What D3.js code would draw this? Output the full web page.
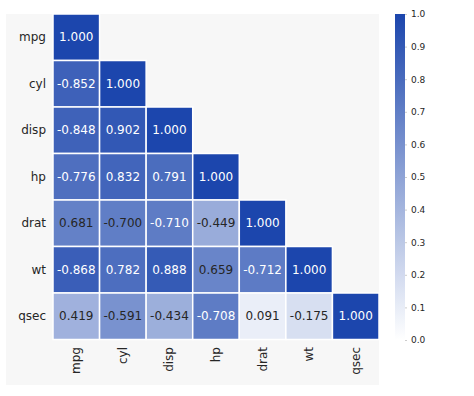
<!DOCTYPE html>
<html><head><meta charset="utf-8">
<script src="https://cdn.jsdelivr.net/npm/d3@7"></script>
<style>body{margin:0;background:#fff}svg{display:block;font-family:"DejaVu Sans",sans-serif}</style>
</head><body><svg id="c" width="474" height="396"></svg>
<script>
const variables = ["mpg","cyl","disp","hp","drat","wt","qsec"];
const rowMpg  = [1.000];
const rowCyl  = [-0.852, 1.000];
const rowDisp = [-0.848, 0.902, 1.000];
const rowHp   = [-0.776, 0.832, 0.791, 1.000];
const rowDrat = [0.681, -0.700, -0.710, -0.449, 1.000];
const rowWt   = [-0.868, 0.782, 0.888, 0.659, -0.712, 1.000];
const rowQsec = [0.419, -0.591, -0.434, -0.708, 0.091, -0.175, 1.000];
const rows = [rowMpg,rowCyl,rowDisp,rowHp,rowDrat,rowWt,rowQsec];
const cbarTicks = [0.0,0.1,0.2,0.3,0.4,0.5,0.6,0.7,0.8,0.9,1.0];

const svg = d3.select("#c");
const x = d3.scaleBand().domain(variables).range([53,379]).padding(0);
const y = d3.scaleBand().domain(variables).range([14,339.5]).padding(0);
const color = d3.scaleLinear().domain([0,1]).range(["#ffffff","#1c46ad"]).interpolate(d3.interpolateRgb);

// panel background
svg.append("rect").attr("x",6).attr("y",14).attr("width",373).attr("height",371).attr("fill","#f7f7f7");

const cells = [];
rows.forEach((r,i)=>r.forEach((v,j)=>cells.push({row:variables[i],col:variables[j],v})));

const g = svg.append("g");
g.selectAll("rect.cell").data(cells).join("rect").attr("class","cell")
  .attr("x",d=>x(d.col)).attr("y",d=>y(d.row))
  .attr("width",x.bandwidth()).attr("height",y.bandwidth())
  .attr("fill",d=>color(Math.abs(d.v)))
  .attr("stroke","#ffffff").attr("stroke-width",1.5);

g.selectAll("text.val").data(cells).join("text").attr("class","val")
  .attr("x",d=>x(d.col)+x.bandwidth()/2).attr("y",d=>y(d.row)+y.bandwidth()/2)
  .attr("text-anchor","middle").attr("dominant-baseline","central")
  .attr("font-size",12)
  .attr("fill",d=>Math.abs(d.v)>0.705?"#ffffff":"#262626")
  .text(d=>d.v.toFixed(3));

// y labels
svg.append("g").selectAll("text").data(variables).join("text")
  .attr("x",46).attr("y",d=>y(d)+y.bandwidth()/2)
  .attr("text-anchor","end").attr("dominant-baseline","central")
  .attr("font-size",12).attr("fill","#262626").text(d=>d);

// x labels
svg.append("g").selectAll("text").data(variables).join("text")
  .attr("transform",d=>`translate(${x(d)+x.bandwidth()/2},347) rotate(-90)`)
  .attr("text-anchor","end").attr("dominant-baseline","central")
  .attr("font-size",12).attr("fill","#262626").text(d=>d);

// colorbar
const defs = svg.append("defs");
const grad = defs.append("linearGradient").attr("id","cb").attr("x1",0).attr("y1",1).attr("x2",0).attr("y2",0);
d3.range(0,1.0001,0.1).forEach(t=>grad.append("stop").attr("offset",t).attr("stop-color",color(t)));
const cy = d3.scaleLinear().domain([0,1]).range([340,14]);
svg.append("rect").attr("x",395).attr("y",cy(1)).attr("width",10).attr("height",cy(0)-cy(1)).attr("fill","url(#cb)");
const cax = svg.append("g").attr("transform","translate(405,0)")
  .call(d3.axisRight(cy).tickValues(cbarTicks).tickFormat(d3.format(".1f")).tickSize(2).tickPadding(4));
cax.select(".domain").remove();
cax.selectAll("line").attr("stroke","#cccccc");
cax.selectAll("text").attr("font-size",9).attr("fill","#262626").attr("font-family","DejaVu Sans, sans-serif");
</script></body></html>
